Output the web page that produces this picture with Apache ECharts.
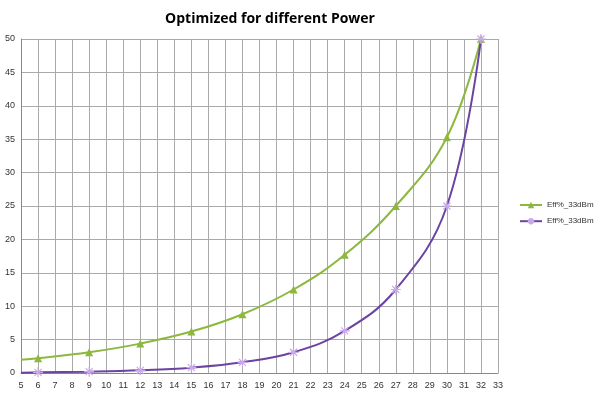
<!DOCTYPE html><html><head><meta charset="utf-8"><script src="https://cdn.jsdelivr.net/npm/echarts@6/dist/echarts.min.js"></script>
<style>html,body{margin:0;padding:0;background:#fff}#c{width:600px;height:401px}</style></head><body><div id="c"></div><script>
const xVals=[5,6,9,12,15,18,21,24,27,30,32];
const greenVals=[2.0,2.2,3.1,4.4,6.2,8.8,12.5,17.7,25,35.3,50];
const purpleVals=[0.05,0.1,0.2,0.4,0.8,1.6,3.1,6.3,12.5,25,50];
const star='path://M0,-10L0,10M-10,0L10,0M-7,-7L7,7M-7,7L7,-7';
function pts(v){return xVals.map((x,i)=>i===0?{value:[x,v[i]],symbol:'none'}:[x,v[i]]);}
const ch=echarts.init(document.getElementById('c'));
ch.setOption({animation:false,
title:{text:'Optimized for different Power',left:265,textAlign:'center',top:7,textStyle:{fontFamily:'Open Sans',fontSize:14,fontWeight:'bold',color:'#000'}},
grid:{left:21,right:102,top:39,bottom:28},
legend:{orient:'vertical',left:514,top:196,itemGap:8,itemWidth:22,itemHeight:8,textStyle:{fontSize:8,color:'#333'},
 data:['Eff%_33dBm','Eff%_33dBm ']},
xAxis:{type:'value',min:5,max:33,interval:1,axisLine:{lineStyle:{color:'#888'}},axisTick:{show:false},
 axisLabel:{fontSize:9,color:'#333'},splitLine:{show:true,lineStyle:{color:'#aaa',width:1}}},
yAxis:{type:'value',min:0,max:50,interval:5,axisLine:{show:true,lineStyle:{color:'#888'}},axisTick:{show:false},
 axisLabel:{fontSize:9,color:'#333',margin:6},splitLine:{lineStyle:{color:'#aaa'}}},
series:[
{name:'Eff%_33dBm',type:'line',smooth:0.4,data:pts(greenVals),symbol:'triangle',symbolSize:8,
 lineStyle:{color:'#8cb83e',width:2},itemStyle:{color:'#8cb83e'}},
{name:'Eff%_33dBm ',type:'line',smooth:0.4,data:pts(purpleVals),symbol:star,symbolSize:10,
 lineStyle:{color:'#6a44a0',width:2},itemStyle:{color:'#c9a9e8',borderColor:'#c9a9e8',borderWidth:1.2}}
]});
</script></body></html>
